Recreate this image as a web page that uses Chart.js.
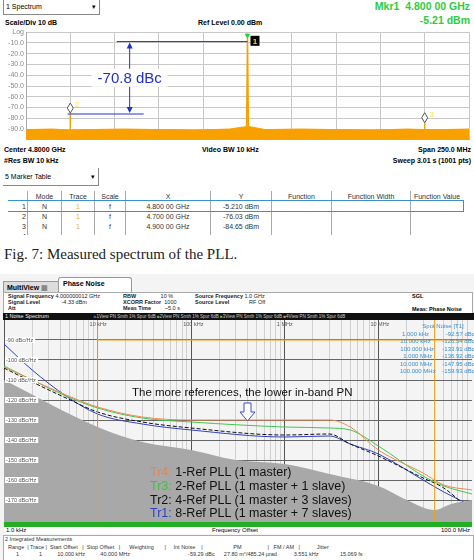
<!DOCTYPE html>
<html><head><meta charset="utf-8">
<script src="https://cdn.jsdelivr.net/npm/chart.js@4.4.0/dist/chart.umd.min.js"></script>
<style>
body{margin:0;width:474px;height:560px;position:relative;background:#fff;font-family:"Liberation Sans",Arial,sans-serif;overflow:hidden}
.a{position:absolute;white-space:nowrap}
.b{font-weight:bold}
canvas{position:absolute}
table{border-collapse:collapse}
</style></head><body>
<script>
// ---------- Top spectrum data ----------
const specYTicks=[0,-10,-20,-30,-40,-50,-60,-70,-80,-90,-100];
const floorFreqGHz=[4.675,4.69,4.70,4.71,4.73,4.75,4.77,4.79,4.798,4.802,4.81,4.83,4.85,4.87,4.89,4.90,4.91,4.925];
const floorTopDbm=[-90.5,-90,-91,-90.5,-90,-90.5,-91,-90,-88,-88,-90.5,-90,-90.5,-91,-90,-90.5,-90.5,-90];
const carrierGHz=[4.7985,4.7995,4.8,4.8005,4.8015];
const carrierDbm=[-100,-86,-5.21,-86,-100];
const spurGHz=[4.7,4.9];
const spurDbm=[-76.03,-84.65];
// ---------- Phase noise data ----------
const pnOffsetHz=[1e3,2e3,4.6e3,1e4,3e4,1e5,1e6,3e6,5e6,1e7,3e7,5e7,1e8];
const tr4=[-103.5,-110,-117.5,-123.5,-128.5,-130,-130,-130,-133.5,-145,-156.5,-162.5,-165];
const tr3=[-103,-110,-118,-124,-129,-131,-133.5,-134,-135,-143,-158,-163,-167];
const tr2=[-104,-111,-119,-126,-131,-134,-137.5,-137,-142,-148,-159,-164,-176];
const tr1=[-92,-105,-118,-127,-132,-135,-138.5,-138,-142,-147,-160,-166,-173];
const floorOffsetHz=[1e3,1e4,3e4,1e5,3e5,1e6,3e6,1e7,2e7,4e7,6e7,1e8];
const floorPn=[-110,-133.5,-141,-145,-150,-152,-157,-163,-170,-175,-172,-170];
const pnYTicks=[-90,-100,-110,-120,-130,-140,-150,-160,-170];
</script>

<!-- top header -->
<div class="a" style="left:3px;top:0;width:93px;height:14px;border:1px solid #888;border-top:none;font-size:7px;line-height:14px;padding-left:2px">1 Spectrum<span style="position:absolute;right:3px">▾</span></div>
<div class="a b" style="right:4px;top:0;color:#2ecc40;font-size:10.5px">Mkr1&nbsp; 4.800 00 GHz</div>
<div class="a b" style="right:4px;top:14px;color:#2ecc40;font-size:10.5px">-5.21 dBm</div>
<div class="a b" style="left:5px;top:19px;font-size:7px">Scale/Div 10 dB</div>
<div class="a b" style="left:198px;top:19px;font-size:7px">Ref Level 0.00 dBm</div>
<canvas id="c1" style="left:3px;top:26px"></canvas>
<div class="a b" style="left:4px;top:146px;font-size:7px">Center 4.8000 GHz</div>
<div class="a b" style="left:202px;top:146px;font-size:7px">Video BW 10 kHz</div>
<div class="a b" style="right:3px;top:146px;font-size:7px">Span 250.0 MHz</div>
<div class="a b" style="left:4px;top:157px;font-size:7px">#Res BW 10 kHz</div>
<div class="a b" style="right:3px;top:157px;font-size:7px">Sweep 3.01 s (1001 pts)</div>
<div class="a" style="left:3px;top:168px;width:93px;height:17px;border-right:1px solid #888;border-bottom:1px solid #888;font-size:7px;line-height:17px;padding-left:2px">5 Marker Table<span style="position:absolute;right:3px">▾</span></div>
<div class="a" style="left:8px;top:191px;width:461px;height:44px;overflow:hidden;font-size:7px;color:#333">
<table style="width:455px;text-align:center">
<tr style="height:10px"><td style="width:17px;border-right:1px solid #aaa"></td><td style="width:31px;border-right:1px solid #aaa">Mode</td><td style="width:30px;border-right:1px solid #aaa">Trace</td><td style="width:28px;border-right:1px solid #aaa">Scale</td><td style="width:82px;border-right:1px solid #aaa">X</td><td style="width:58px;border-right:1px solid #aaa">Y</td><td style="width:57px;border-right:1px solid #aaa">Function</td><td style="width:76px;border-right:1px solid #aaa">Function Width</td><td>Function Value</td></tr>
<tr style="height:10px;outline:1.5px solid #3a8fd0"><td style="border-right:1px solid #aaa;text-align:right">1</td><td style="border-right:1px solid #aaa">N</td><td style="border-right:1px solid #aaa;color:#e8b020">1</td><td style="border-right:1px solid #aaa">f</td><td style="border-right:1px solid #aaa">4.800 00 GHz</td><td style="border-right:1px solid #aaa">-5.210 dBm</td><td style="border-right:1px solid #aaa"></td><td style="border-right:1px solid #aaa"></td><td></td></tr>
<tr style="height:10px"><td style="border-right:1px solid #aaa;text-align:right">2</td><td style="border-right:1px solid #aaa">N</td><td style="border-right:1px solid #aaa;color:#e8b020">1</td><td style="border-right:1px solid #aaa">f</td><td style="border-right:1px solid #aaa">4.700 00 GHz</td><td style="border-right:1px solid #aaa">-76.03 dBm</td><td style="border-right:1px solid #aaa"></td><td style="border-right:1px solid #aaa"></td><td></td></tr>
<tr style="height:10px"><td style="border-right:1px solid #aaa;text-align:right">3</td><td style="border-right:1px solid #aaa">N</td><td style="border-right:1px solid #aaa;color:#e8b020">1</td><td style="border-right:1px solid #aaa">f</td><td style="border-right:1px solid #aaa">4.900 00 GHz</td><td style="border-right:1px solid #aaa">-84.65 dBm</td><td style="border-right:1px solid #aaa"></td><td style="border-right:1px solid #aaa"></td><td></td></tr>
<tr style="height:10px"><td style="border-right:1px solid #aaa;text-align:right">4</td><td style="border-right:1px solid #aaa"></td><td style="border-right:1px solid #aaa"></td><td style="border-right:1px solid #aaa"></td><td style="border-right:1px solid #aaa"></td><td style="border-right:1px solid #aaa"></td><td style="border-right:1px solid #aaa"></td><td style="border-right:1px solid #aaa"></td><td></td></tr>
</table></div>
<div class="a" style="left:4px;top:246px;font-family:'Liberation Serif',serif;font-size:15px;color:#222">Fig. 7: Measured spectrum of the PLL.</div>

<!-- bottom header -->
<div class="a" style="left:0;top:274px;width:474px;height:286px;background:#f4f4f4"></div>
<div class="a b" style="left:3px;top:281px;width:52px;height:11px;background:#ddd;border:1px solid #999;font-size:7px;line-height:11px;padding-left:3px">MultiView <span style="color:#888">▦</span></div>
<div class="a b" style="left:58px;top:277px;width:68px;height:15px;background:#fff;border:1px solid #999;border-bottom:none;border-radius:3px 3px 0 0;font-size:7px;line-height:12px;padding-left:4px">Phase Noise</div>
<div class="a" style="left:3px;top:292px;width:468px;height:20px;background:#fff;border:1px solid #aaa"></div>
<div class="a" style="left:8px;top:293px;font-size:5.5px;line-height:6px;color:#222"><b>Signal Frequency</b> 4.000000012 GHz<br><b>Signal Level</b> &nbsp;&nbsp;&nbsp;&nbsp;&nbsp;&nbsp;&nbsp;&nbsp;&nbsp;&nbsp;&nbsp;&nbsp;&nbsp;-4.33 dBm<br><b>Att</b></div>
<div class="a" style="left:123px;top:293px;font-size:5.5px;line-height:6px;color:#222"><b>RBW</b> &nbsp;&nbsp;&nbsp;&nbsp;&nbsp;&nbsp;&nbsp;&nbsp;&nbsp;&nbsp;&nbsp;&nbsp;&nbsp;&nbsp;&nbsp;10 %<br><b>XCORR Factor</b> &nbsp;1000<br><b>Meas Time</b> &nbsp;&nbsp;&nbsp;&nbsp;&nbsp;&nbsp;&nbsp;&nbsp;~5.0 s</div>
<div class="a" style="left:195px;top:293px;font-size:5.5px;line-height:6px;color:#222"><b>Source Frequency</b> 1.0 GHz<br><b>Source Level</b> &nbsp;&nbsp;&nbsp;&nbsp;&nbsp;&nbsp;&nbsp;&nbsp;&nbsp;&nbsp;&nbsp;&nbsp;RF Off</div>
<div class="a b" style="left:412px;top:293px;font-size:5.5px">SGL</div>
<div class="a b" style="left:412px;top:306px;font-size:5.5px">Meas: Phase Noise</div>
<div class="a" style="left:3px;top:313px;width:469px;height:7px;background:#111;color:#eee;font-size:5.5px;line-height:7px;padding-left:2px">1 Noise Spectrum<span style="margin-left:45px;font-size:4.5px;color:#ccc"><span style="color:#4060e0">■</span>1View PN Smth 1% Spur 6dB <span style="color:#40c040">■</span>2View PN Smth 1% Spur 6dB <span style="color:#40c040">■</span>3View PN Smth 1% Spur 6dB <span style="color:#f08030">■</span>4View PN Smth 1% Spur 6dB</span></div>
<canvas id="c2" style="left:4px;top:320px"></canvas>
<div class="a" style="left:4px;top:522px;width:468px;height:5px;background:#22b022"></div>
<div class="a" style="left:4px;top:527px;width:468px;height:7px;background:#fff;font-size:6px;line-height:7px"><span style="margin-left:2px">1.0 kHz</span><span style="position:absolute;left:208px">Frequency Offset</span><span style="position:absolute;right:2px">100.0 MHz</span></div>
<div class="a" style="left:3px;top:535px;width:469px;height:24px;background:#fff;border:1px solid #aaa;font-size:5.5px;color:#333">
<div style="position:absolute;left:1px;top:0">2 Integrated Measurements</div>
<div style="position:absolute;left:4px;top:8px;word-spacing:0">Range &nbsp;| Trace | &nbsp;Start Offset &nbsp;&nbsp;| &nbsp;Stop Offset &nbsp;&nbsp;| &nbsp;&nbsp;&nbsp;&nbsp;&nbsp;Weighting &nbsp;&nbsp;&nbsp;&nbsp;&nbsp;&nbsp;| &nbsp;&nbsp;&nbsp;&nbsp;Int Noise &nbsp;&nbsp;&nbsp;| &nbsp;&nbsp;&nbsp;&nbsp;&nbsp;&nbsp;&nbsp;&nbsp;&nbsp;&nbsp;&nbsp;&nbsp;&nbsp;&nbsp;&nbsp;&nbsp;&nbsp;&nbsp;&nbsp;PM &nbsp;&nbsp;&nbsp;&nbsp;&nbsp;&nbsp;&nbsp;&nbsp;&nbsp;&nbsp;&nbsp;&nbsp;&nbsp;&nbsp;&nbsp;&nbsp;| &nbsp;&nbsp;FM / AM &nbsp;&nbsp;| &nbsp;&nbsp;&nbsp;&nbsp;&nbsp;&nbsp;&nbsp;&nbsp;&nbsp;&nbsp;Jitter</div>
<div style="position:absolute;left:12px;top:15px">1 &nbsp;&nbsp;&nbsp;&nbsp;&nbsp;&nbsp;&nbsp;&nbsp;&nbsp;&nbsp;&nbsp;&nbsp;1 &nbsp;&nbsp;&nbsp;&nbsp;&nbsp;&nbsp;&nbsp;&nbsp;&nbsp;10.000 kHz &nbsp;&nbsp;&nbsp;&nbsp;&nbsp;&nbsp;&nbsp;&nbsp;&nbsp;40.000 MHz &nbsp;&nbsp;&nbsp;&nbsp;&nbsp;&nbsp;&nbsp;&nbsp;&nbsp;&nbsp;&nbsp;&nbsp;&nbsp;&nbsp;&nbsp;&nbsp;&nbsp;&nbsp;&nbsp;&nbsp;&nbsp;&nbsp;&nbsp;&nbsp;&nbsp;&nbsp;&nbsp;&nbsp;&nbsp;&nbsp;&nbsp;&nbsp;&nbsp;&nbsp;&nbsp;&nbsp;&nbsp;-59.29 dBc &nbsp;&nbsp;&nbsp;&nbsp;&nbsp;27.80 m°/485.24 µrad &nbsp;&nbsp;&nbsp;&nbsp;&nbsp;&nbsp;&nbsp;&nbsp;&nbsp;&nbsp;3.551 kHz &nbsp;&nbsp;&nbsp;&nbsp;&nbsp;&nbsp;&nbsp;&nbsp;&nbsp;&nbsp;&nbsp;&nbsp;&nbsp;15.069 fs</div>
</div>

<!-- overlays bottom -->
<div class="a" style="left:400px;top:323px;font-size:6px;line-height:7.5px;color:#3a8fd0;text-align:right">
<div style="margin-right:20px">Spot Noise [T1]</div>
<div>1.000 kHz &nbsp;&nbsp;&nbsp;&nbsp;&nbsp;&nbsp;&nbsp;&nbsp;&nbsp;-92.57 dBc/Hz</div>
<div>10.000 kHz &nbsp;&nbsp;&nbsp;&nbsp;&nbsp;&nbsp;-126.54 dBc/Hz</div>
<div>100.000 kHz &nbsp;&nbsp;&nbsp;&nbsp;-133.91 dBc/Hz</div>
<div>1.000 MHz &nbsp;&nbsp;&nbsp;&nbsp;&nbsp;-136.92 dBc/Hz</div>
<div>10.000 MHz &nbsp;&nbsp;&nbsp;&nbsp;&nbsp;-147.95 dBc/Hz</div>
<div>100.000 MHz &nbsp;&nbsp;&nbsp;-159.93 dBc/Hz</div>
</div>
<div class="a" style="left:132px;top:386px;font-size:11.5px;color:#111">The more references, the lower in-band PN</div>
<svg class="a" style="left:239px;top:402px" width="17" height="20"><path d="M5 1 H12 V10 H16 L8.5 19 L1 10 H5 Z" fill="#fff" stroke="#4050c0" stroke-width="1"/></svg>
<div class="a" style="left:150px;top:466px;font-size:12.5px;line-height:13.8px;color:#111">
<div><span style="color:#f08050">Tr4:</span> 1-Ref PLL (1 master)</div>
<div><span style="color:#40c040">Tr3:</span> 2-Ref PLL (1 master + 1 slave)</div>
<div><span>Tr2:</span> 4-Ref PLL (1 master + 3 slaves)</div>
<div><span style="color:#3040c0">Tr1:</span> 8-Ref PLL (1 master + 7 slaves)</div>
</div>

<script>
const orange='#f7a000';
// ---------- top chart ----------
const topPlugin={id:'topAnno',afterDatasetsDraw(ch){
  const c=ch.ctx,x=ch.scales.x,y=ch.scales.y;
  c.save();
  c.strokeStyle='#2030d0';c.fillStyle='#2030d0';c.lineWidth=1;
  const yTop=y.getPixelForValue(-5.21-3.5), yBot=y.getPixelForValue(spurDbm[0]);
  const xa=x.getPixelForValue(4.7335);
  c.beginPath();c.moveTo(x.getPixelForValue(4.7335)-13,yTop);c.lineTo(x.getPixelForValue(4.8),yTop);
  c.moveTo(x.getPixelForValue(4.6985),yBot);c.lineTo(xa+14,yBot);
  c.moveTo(xa,yTop+4);c.lineTo(xa,yTop+28);c.moveTo(xa,yBot-4);c.lineTo(xa,yBot-28);c.stroke();
  [[yTop,1],[yBot,-1]].forEach(([yy,d])=>{c.beginPath();c.moveTo(xa,yy+d);c.lineTo(xa-3,yy+d*7);c.lineTo(xa+3,yy+d*7);c.closePath();c.fill();});
  c.fillStyle='#fff';c.fillRect(xa-38,(yTop+yBot)/2-9,76,18);
  c.fillStyle='#2030d0';c.font='15px "Liberation Sans"';c.textAlign='center';c.textBaseline='middle';
  c.fillText('-70.8 dBc',xa,(yTop+yBot)/2+1);
  const pk=[x.getPixelForValue(4.8),y.getPixelForValue(-5.21)];
  c.fillStyle='#2ecc40';c.beginPath();c.moveTo(pk[0]-3,pk[1]-4);c.lineTo(pk[0]+3,pk[1]-4);c.lineTo(pk[0],pk[1]+1);c.closePath();c.fill();
  c.fillStyle='#000';c.fillRect(pk[0]+3,pk[1]-2,9,10);c.fillStyle='#ffe000';c.font='bold 8px "Liberation Sans"';c.fillText('1',pk[0]+7.5,pk[1]+3.5);
  const mk=[[spurGHz[0],-70.5,'2'],[spurGHz[1],-79.5,'3']];
  mk.forEach(([f,v,l])=>{const px=x.getPixelForValue(f),py=y.getPixelForValue(v);
    c.strokeStyle='#555';c.fillStyle='#fff';c.beginPath();c.moveTo(px,py-5);c.lineTo(px+3,py);c.lineTo(px,py+5);c.lineTo(px-3,py);c.closePath();c.fill();c.stroke();
    c.fillStyle='#f0e060';c.font='8px "Liberation Sans"';c.fillText(l,px+7,py-3);});
  c.restore();
}};
const c1=document.getElementById('c1');c1.width=468;c1.height=120;c1.style.width='468px';c1.style.height='120px';
new Chart(c1,{type:'scatter',data:{datasets:[
  {data:floorFreqGHz.map((f,i)=>({x:f,y:floorTopDbm[i]})),showLine:true,borderColor:orange,backgroundColor:orange,fill:'start',pointRadius:0,borderWidth:1},
  {data:carrierGHz.map((f,i)=>({x:f,y:carrierDbm[i]})),showLine:true,borderColor:orange,borderWidth:1.5,pointRadius:0},
  {data:[{x:spurGHz[0],y:spurDbm[0]},{x:spurGHz[0],y:-100},{x:null,y:null},{x:spurGHz[1],y:spurDbm[1]},{x:spurGHz[1],y:-100}],showLine:true,spanGaps:false,borderColor:orange,borderWidth:1,pointRadius:0}
]},options:{responsive:false,animation:false,devicePixelRatio:1,layout:{padding:{top:4,right:2,bottom:2}},
  plugins:{legend:{display:false},tooltip:{enabled:false}},
  scales:{x:{type:'linear',min:4.675,max:4.925,afterBuildTicks:s=>{s.ticks=[];for(let i=0;i<=10;i++)s.ticks.push({value:4.675+i*0.025});},ticks:{display:false},grid:{color:'#c8c8c8',drawTicks:false},border:{color:'#aaa'}},
  y:{min:-100,max:0,afterBuildTicks:s=>{s.ticks=specYTicks.map(v=>({value:v}));},afterFit:s=>{s.width=23;},
    ticks:{autoSkip:false,color:'#888',font:{size:7,family:'Liberation Sans'},padding:2,callback:v=>v===0?'Log':v===-100?'':v.toFixed(1)},grid:{color:'#c8c8c8',drawTicks:false},border:{color:'#aaa'}}}},
  plugins:[topPlugin]});

// ---------- bottom chart ----------
const c2=document.getElementById('c2');c2.width=468;c2.height=202;c2.style.width='468px';c2.style.height='202px';
const pnPlugin={id:'pnAnno',afterDatasetsDraw(ch){
  const c=ch.ctx,x=ch.scales.x,y=ch.scales.y;c.save();
  c.strokeStyle=orange;c.lineWidth=1;c.beginPath();
  c.moveTo(x.getPixelForValue(1e4),y.getPixelForValue(-90));c.lineTo(x.right,y.getPixelForValue(-90));
  c.moveTo(x.getPixelForValue(1e4),y.top);c.lineTo(x.getPixelForValue(1e4),y.bottom);
  c.moveTo(x.getPixelForValue(4e7),y.top);c.lineTo(x.getPixelForValue(4e7),y.bottom);c.stroke();
  c.font='5.5px "Liberation Sans"';c.textBaseline='middle';
  pnYTicks.forEach(v=>{const py=y.getPixelForValue(v);const t=v+' dBc/Hz';c.fillStyle='#fff';c.fillRect(x.left+1,py-3,c.measureText(t).width+3,6);c.fillStyle='#555';c.fillText(t,x.left+2,py);});
  c.fillStyle='#555';[['10 kHz',1e4],['100 kHz',1e5],['1 MHz',1e6],['10 MHz',1e7]].forEach(([t,f])=>c.fillText(t,x.getPixelForValue(f)-8,y.top+4));
  c.restore();}};
const mk=(arr,col,dash)=>({data:pnOffsetHz.map((f,i)=>({x:f,y:arr[i]})),showLine:true,borderColor:col,borderWidth:1,borderDash:dash||[],pointRadius:0,cubicInterpolationMode:'monotone'});
new Chart(c2,{type:'scatter',data:{datasets:[
  {data:floorOffsetHz.map((f,i)=>({x:f,y:floorPn[i]})),showLine:true,borderColor:'#a8a8a8',backgroundColor:'#a8a8a8',fill:'start',pointRadius:0,borderWidth:0,cubicInterpolationMode:'monotone'},
  mk(tr4,'#f08a50'),mk(tr3,'#40c850'),mk(tr2,'#111',[4,2]),mk(tr1,'#3040c8')
]},options:{responsive:false,animation:false,devicePixelRatio:1,layout:{padding:0},
  plugins:{legend:{display:false},tooltip:{enabled:false}},
  scales:{x:{type:'logarithmic',min:1e3,max:1e8,afterBuildTicks:s=>{s.ticks=[];for(let e=3;e<8;e++)for(let m=1;m<10;m++)s.ticks.push({value:m*10**e});s.ticks.push({value:1e8});},
    ticks:{display:false},grid:{color:c=>{const v=c.tick&&c.tick.value;if(!v)return '#ccc';const m=v/10**Math.floor(Math.log10(v)+1e-9);return Math.abs(m-1)<1e-6?'#555':'#d0d0d0';},drawTicks:false},border:{display:false}},
  y:{min:-181,max:-80,afterBuildTicks:s=>{s.ticks=pnYTicks.map(v=>({value:v}));},ticks:{display:false},grid:{color:'#666',drawTicks:false},border:{display:false}}}},
  plugins:[pnPlugin]});
</script>
</body></html>
